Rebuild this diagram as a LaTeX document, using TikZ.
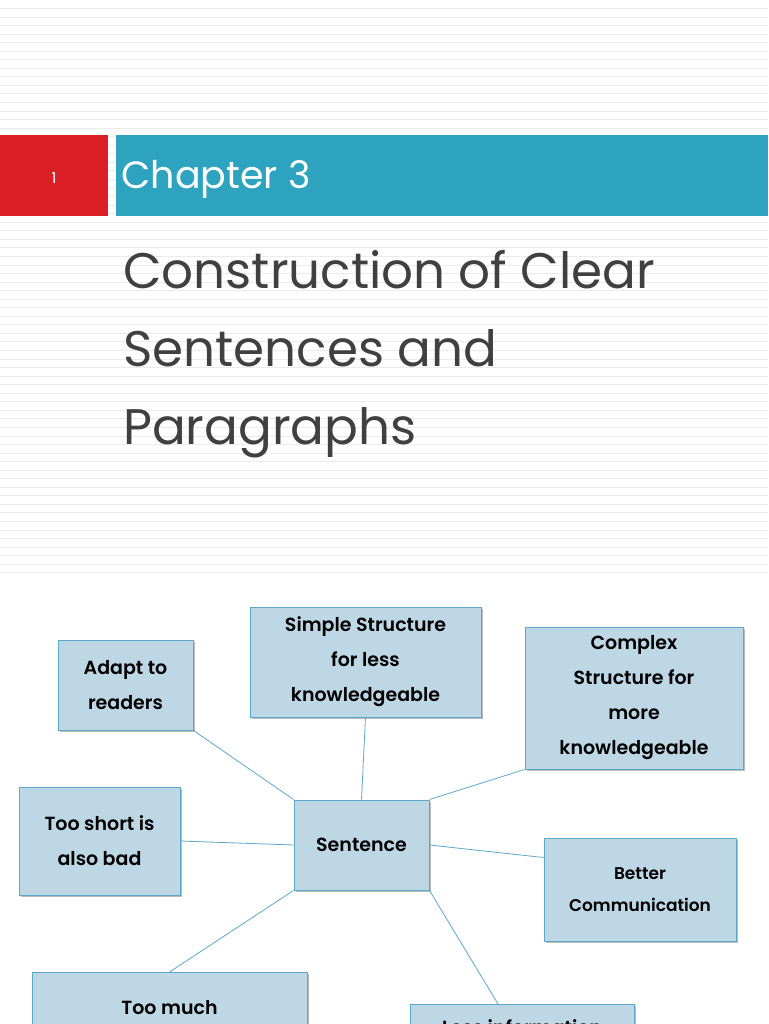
\documentclass[tikz,border=0pt]{standalone}
\usetikzlibrary{shadows}
\usepackage{fontspec}
\setmainfont{Poppins}
\newfontfamily\boldf{Poppins SemiBold}
\definecolor{hred}{HTML}{DA1F26}
\definecolor{hblue}{HTML}{2EA3BF}
\definecolor{bfill}{HTML}{BDD7E4}
\definecolor{bline}{HTML}{5BA8C8}
\definecolor{ttext}{HTML}{404040}
\definecolor{stripe}{HTML}{EBEBEB}
\begin{document}
\begin{tikzpicture}[x=1pt,y=-1pt,
  cbox/.style={draw=bline,fill=bfill,line width=1pt,align=center,inner sep=0pt,
    font=\boldf\fontsize{19}{35}\selectfont,drop shadow={shadow xshift=1.5pt,shadow yshift=-1.5pt,fill=black!45,opacity=.6}},
  link/.style={draw=bline,line width=0.8pt}]
\useasboundingbox (0,0) rectangle (768,1024);
\fill[white] (0,0) rectangle (768,1024);
\foreach \i in {0,...,66} {\draw[stripe,line width=1pt] (0,{8.5+8.55*\i}) -- (768,{8.5+8.55*\i});}
\fill[hred] (0,135) rectangle (108,216);
\fill[hblue] (116,135) rectangle (768,216);
\node[white,font=\fontsize{15}{17}\selectfont] (num) at (54,178) {1};
\node[white,anchor=west,font=\fontsize{38}{42}\selectfont] (ch) at (118,179) {Chapter 3};
\node[ttext,anchor=north west,align=left,font=\fontsize{50}{78}\selectfont,inner sep=0pt] (title) at (123,250)
  {Construction of Clear\\Sentences and\\Paragraphs};
\node[cbox,minimum width=135,minimum height=90] (adapt) at (125.5,685) {Adapt to\\readers};
\node[cbox,minimum width=231,minimum height=110] (simple) at (365.5,662) {Simple Structure\\for less\\knowledgeable};
\node[cbox,minimum width=218,minimum height=142] (complex) at (634,698) {Complex\\Structure for\\more\\knowledgeable};
\node[cbox,minimum width=161,minimum height=108] (short) at (99.5,841) {Too short is\\also bad};
\node[cbox,minimum width=135,minimum height=90] (sent) at (361.5,845) {Sentence};
\node[cbox,minimum width=192,minimum height=103,font=\boldf\fontsize{17}{32}\selectfont] (better) at (640,889.5) {Better\\Communication};
\node[cbox,minimum width=275,minimum height=100,anchor=north] (much) at (169.5,972) {};
\node[font=\boldf\fontsize{19}{25}\selectfont] (muchtxt) at (169.5,1008) {Too much};
\node[cbox,minimum width=224,minimum height=60,anchor=north] (less) at (522,1004) {};
\node[font=\boldf\fontsize{19}{25}\selectfont] (lesstxt) at (522,1027) {Less information};
\draw[link] (adapt.south east) -- (sent.north west);
\draw[link] (simple.south) -- (sent.north);
\draw[link] (complex.south west) -- (sent.north east);
\draw[link] (short.east) -- (sent.west);
\draw[link] (better.west) ++(0,-32) -- (sent.east);
\draw[link] (much.north) -- (sent.south west);
\draw[link] (less.north) ++(-24,0) -- (sent.south east);
\end{tikzpicture}
\end{document}
